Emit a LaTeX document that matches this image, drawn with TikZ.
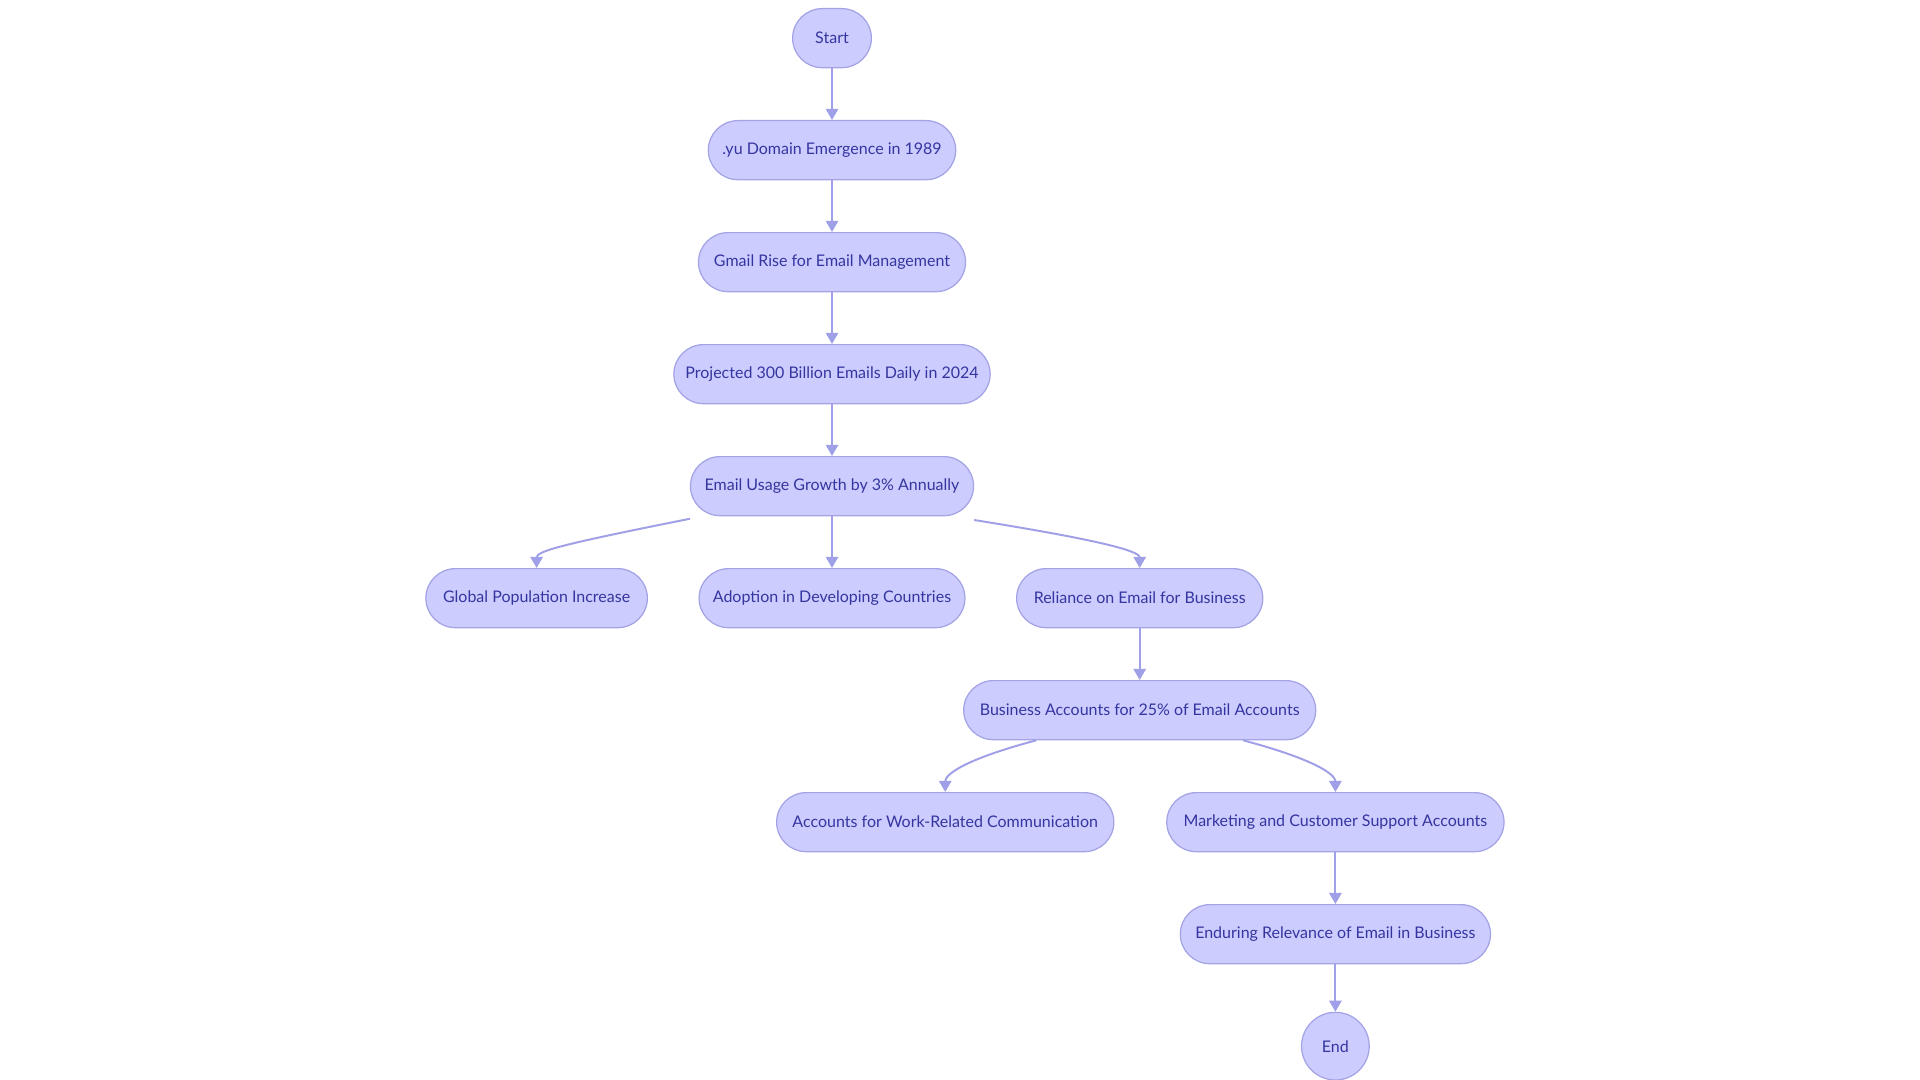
\documentclass[tikz,border=0pt]{standalone}
\usepackage{fontspec}
\setmainfont{Lato}
\usetikzlibrary{arrows.meta}
\definecolor{nfill}{HTML}{CCCCFF}
\definecolor{nline}{HTML}{A3A3E6}
\definecolor{ntext}{HTML}{3535A0}
\definecolor{eline}{HTML}{A0A0E8}
\tikzset{
 box/.style={draw=nline, fill=nfill, rounded corners=24pt, minimum height=48pt, text=ntext, font=\fontsize{13}{15}\selectfont, line width=1pt, inner xsep=0pt},
 circ/.style={draw=nline, fill=nfill, circle, minimum size=55pt, text=ntext, font=\fontsize{13}{15}\selectfont, line width=1pt, inner sep=0pt},
 edge/.style={draw=eline, line width=1.6pt, -{Triangle[length=9pt,width=10pt]}},
}
\begin{document}
\begin{tikzpicture}[x=1pt,y=-1pt]
\useasboundingbox (0,0) rectangle (1560,877.5);
\node[box, minimum width=64pt] (s) at (676,31) {Start};
\node[box, minimum width=201pt] (yu) at (676,122) {.yu Domain Emergence in 1989};
\node[box, minimum width=217pt] (gm) at (676,213) {Gmail Rise for Email Management};
\node[box, minimum width=257pt] (pr) at (676,304) {Projected 300 Billion Emails Daily in 2024};
\node[box, minimum width=230pt] (eu) at (676,395) {Email Usage Growth by 3\% Annually};
\node[box, minimum width=180pt] (gl) at (436,486) {Global Population Increase};
\node[box, minimum width=216pt] (ad) at (676,486) {Adoption in Developing Countries};
\node[box, minimum width=200pt] (re) at (926,486) {Reliance on Email for Business};
\node[box, minimum width=286pt] (ba) at (926,577) {Business Accounts for 25\% of Email Accounts};
\node[box, minimum width=274pt] (wr) at (768,668) {Accounts for Work-Related Communication};
\node[box, minimum width=274pt] (mk) at (1085,668) {Marketing and Customer Support Accounts};
\node[box, minimum width=252pt] (en) at (1085,759) {Enduring Relevance of Email in Business};
\node[circ] (e) at (1085,850) {End};
\draw[edge] (s) -- (yu);
\draw[edge] (yu) -- (gm);
\draw[edge] (gm) -- (pr);
\draw[edge] (pr) -- (eu);
\draw[edge] (eu) -- (ad);
\draw[edge] ([xshift=0pt,yshift=-2pt]eu.south west) .. controls +(-100,20) and +(0,-14) .. (gl.north);
\draw[edge] ([yshift=-3pt]eu.south east) .. controls +(100,16) and +(0,-14) .. (re.north);
\draw[edge] (re) -- (ba);
\draw[edge] ([xshift=-84pt]ba.south) .. controls +(-60,16) and +(0,-14) .. (wr.north);
\draw[edge] ([xshift=84pt]ba.south) .. controls +(60,16) and +(0,-14) .. (mk.north);
\draw[edge] (mk) -- (en);
\draw[edge] (en) -- (e);
\end{tikzpicture}
\end{document}
